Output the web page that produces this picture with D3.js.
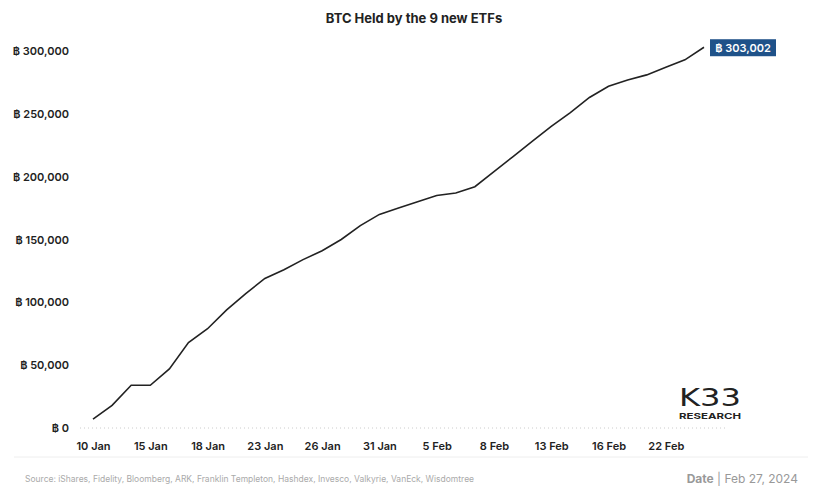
<!DOCTYPE html>
<html><head><meta charset="utf-8">
<script src="https://cdn.jsdelivr.net/npm/d3@7"></script>
<style>body{margin:0;background:#fff;font-family:Inter,"Noto Sans",sans-serif}</style>
</head><body><svg id="c" width="829" height="500"></svg>
<script>
const dates=["10 Jan","11 Jan","12 Jan","15 Jan","16 Jan","17 Jan","18 Jan","19 Jan","22 Jan","23 Jan","24 Jan","25 Jan","26 Jan","29 Jan","30 Jan","31 Jan","1 Feb","2 Feb","5 Feb","6 Feb","7 Feb","8 Feb","9 Feb","12 Feb","13 Feb","14 Feb","15 Feb","16 Feb","20 Feb","21 Feb","22 Feb","23 Feb","26 Feb"];
const held=[7000,18000,34000,34000,47000,68000,79000,94000,107000,119000,126000,134000,141000,150000,161000,170000,175000,180000,185000,187000,192000,204000,216000,228000,240000,251000,263000,272000,277000,281000,287000,293000,303002];
const tickLabels=["10 Jan","15 Jan","18 Jan","23 Jan","26 Jan","31 Jan","5 Feb","8 Feb","13 Feb","16 Feb","22 Feb"];
const yTicks=[0,50000,100000,150000,200000,250000,300000];
const svg=d3.select("#c");
const x=d3.scalePoint().domain(dates).range([93,704]);
const y=d3.scaleLinear().domain([0,300000]).range([428,51]);
svg.append("text").attr("x",414).attr("y",23).attr("text-anchor","middle").attr("font-size",13).attr("font-weight",700).attr("fill","#222").text("BTC Held by the 9 new ETFs");
svg.append("line").attr("x1",80).attr("x2",725).attr("y1",y(0)).attr("y2",y(0)).attr("stroke","#ccc").attr("stroke-dasharray","1,3");
const ya=svg.append("g").attr("transform","translate(72,0)").call(d3.axisLeft(y).tickValues(yTicks).tickSize(0).tickFormat(d=>"฿ "+d3.format(",")(d)));
ya.select(".domain").remove();
ya.selectAll("text").attr("font-size",11).attr("font-weight",600).attr("fill","#222").attr("font-family","Inter,sans-serif");
const xa=svg.append("g").attr("transform","translate(0,436)").call(d3.axisBottom(x).tickValues(tickLabels).tickSize(0).tickPadding(6));
xa.select(".domain").remove();
xa.selectAll("text").attr("font-size",11).attr("font-weight",600).attr("fill","#222").attr("font-family","Inter,sans-serif");
svg.append("path").datum(held).attr("fill","none").attr("stroke","#222").attr("stroke-width",1.6)
 .attr("d",d3.line().x((d,i)=>x(dates[i])).y(d=>y(d)));
const lx=x(dates[dates.length-1])+6, ly=y(held[held.length-1]);
svg.append("rect").attr("x",lx).attr("y",ly-8).attr("width",66).attr("height",17).attr("fill","#1f5289");
svg.append("text").attr("x",lx+33).attr("y",ly+4.5).attr("text-anchor","middle").attr("font-size",11).attr("font-weight",600).attr("fill","#fff").text("฿ "+d3.format(",")(held[held.length-1]));
svg.append("line").attr("x1",14).attr("x2",808).attr("y1",457).attr("y2",457).attr("stroke","#eee");
svg.append("text").attr("x",25).attr("y",482).attr("font-size",8.5).attr("fill","#aaa").text("Source:  iShares, Fidelity, Bloomberg, ARK, Franklin Templeton, Hashdex, Invesco, Valkyrie, VanEck, Wisdomtree");
const dt=svg.append("text").attr("x",798).attr("y",483).attr("text-anchor","end").attr("font-size",12).attr("fill","#999");
dt.append("tspan").attr("font-weight",700).text("Date");dt.append("tspan").text(" | Feb 27, 2024");
svg.append("text").attr("x",679).attr("y",406).attr("font-size",24).attr("fill","#222").attr("font-family","DejaVu Sans").attr("textLength",62).attr("lengthAdjust","spacingAndGlyphs").text("K33");
svg.append("text").attr("x",679).attr("y",419).attr("font-size",8).attr("font-weight",700).attr("fill","#222").attr("textLength",62).attr("lengthAdjust","spacingAndGlyphs").text("RESEARCH");
</script></body></html>
